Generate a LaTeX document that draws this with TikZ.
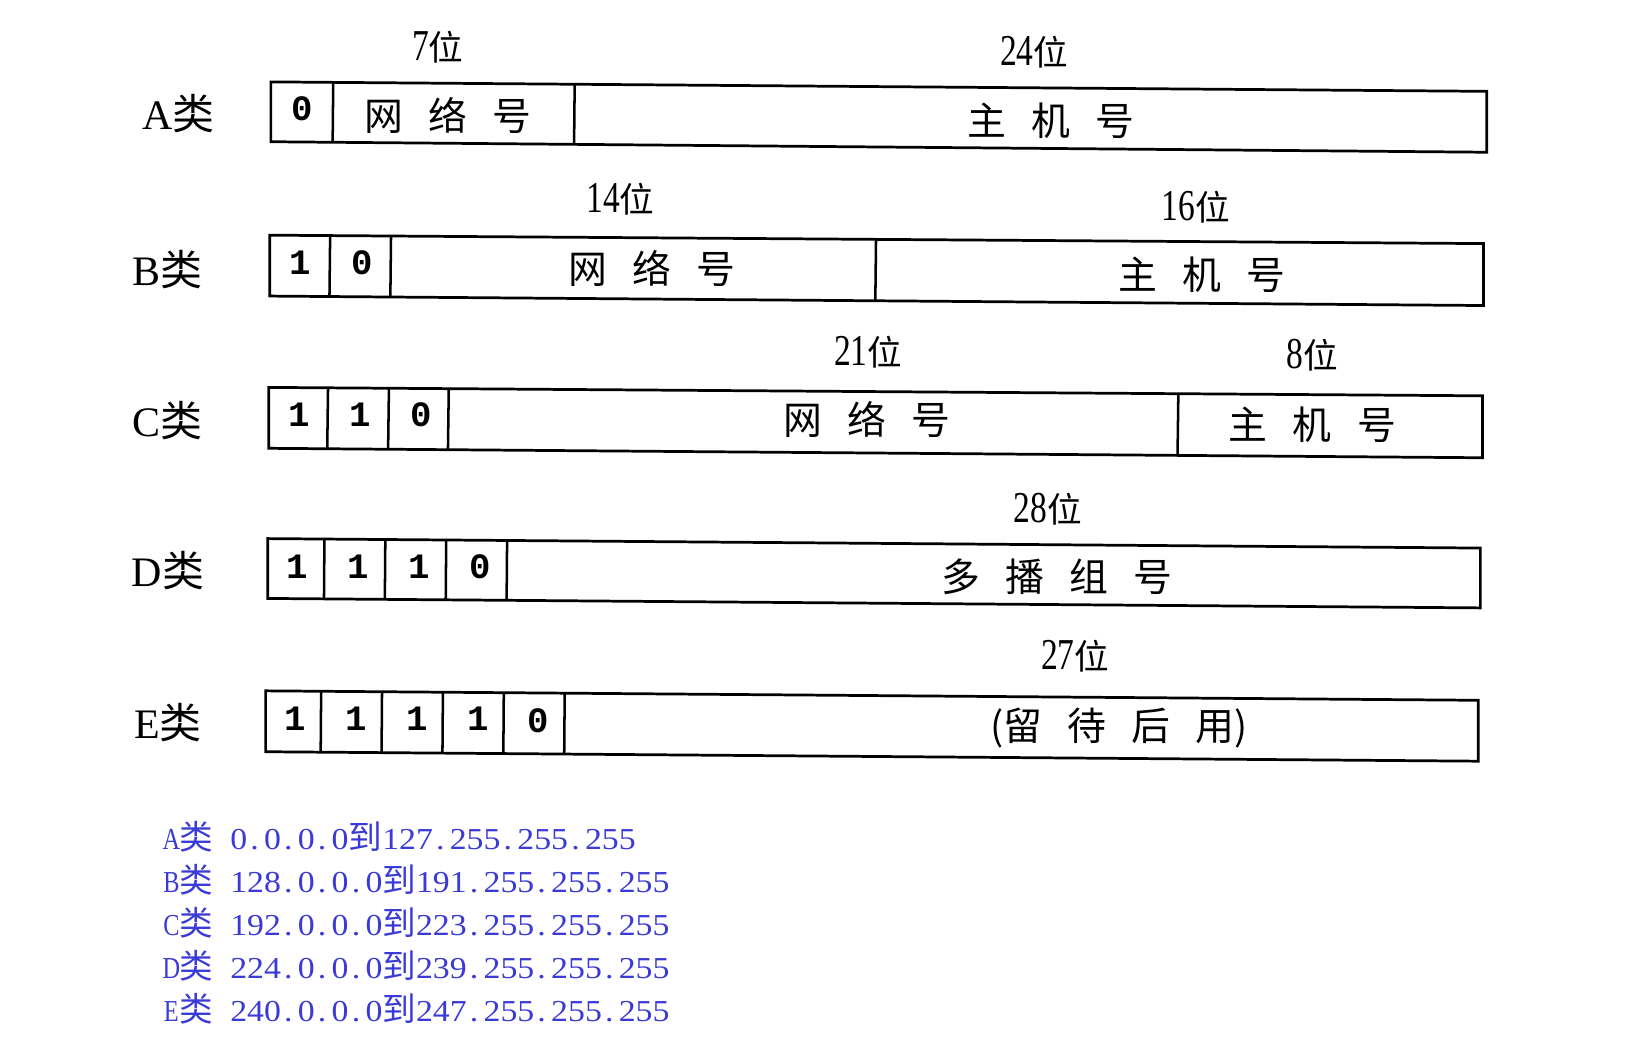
\documentclass[tikz,border=0pt]{standalone}
\usepackage{fontspec}
\usetikzlibrary{calc}
\newfontfamily\cjk{Noto Sans CJK SC}
\newfontfamily\lserif{Liberation Serif}
\newfontfamily\nserif[FakeStretch=0.76]{Liberation Serif}
\newfontfamily\bitfont{Liberation Mono}
\newfontfamily\ipfont[FakeStretch=1.11]{Liberation Serif}
\definecolor{ipblue}{RGB}{58,58,214}
\tikzset{
  boxline/.style={line width=2.6pt, line join=miter},
  divline/.style={line width=2.4pt},
  cls/.style={inner sep=0pt, font=\fontsize{40}{40}\selectfont},
  bits/.style={inner sep=0pt, font=\bitfont\bfseries\fontsize{34}{34}\selectfont},
  field/.style={inner sep=0pt, font=\cjk\fontsize{37}{37}\selectfont},
  cnt/.style={inner sep=0pt},
  ip/.style={anchor=base west, inner sep=0pt, text=ipblue, font=\ipfont\fontsize{29}{29}\selectfont},
}
\newcommand\Cls[1]{{\lserif #1}{\cjk 类}}
\newcommand\Cnt[1]{{\nserif\fontsize{42}{42}\selectfont #1}{\cjk\fontsize{33}{33}\selectfont 位}}
\newcommand\gp{\hspace{24pt}}
\newcommand\dt{\makebox[16.1pt][l]{\hspace{3pt}.}}
\newcommand\ltr[1]{\makebox[16.1pt][c]{\scalebox{0.72}[1]{#1}}}
\newcommand\IPline[3]{\ltr{#1}{\cjk\fontsize{32}{32}\selectfont 类}\hspace{16.1pt}#2{\cjk\fontsize{32}{32}\selectfont 到}#3}
\begin{document}
\begin{tikzpicture}[x=1pt,y=-1pt]
\useasboundingbox (0,0) rectangle (1563,987);
% ---------- A ----------
\coordinate (aTL) at (258,78); \coordinate (aTR) at (1416,87);
\coordinate (aBL) at (258,135); \coordinate (aBR) at (1416,145);
\draw[boxline] (aTL) -- (aTR) -- (aBR) -- (aBL) -- cycle;
\foreach \x in {318,548} \draw[divline] ($(aTL)!(\x,0)!(aTR)$) -- ($(aBL)!(\x,0)!(aBR)$);
\node[cls] (clsA) at (170,108) {\Cls{A}};
\node[bits] (a1) at (288,104) {0};
\node[field] (aNet) at (427,110) {网\gp 络\gp 号};
\node[field] (aHost) at (1001,115) {主\gp 机\gp 号};
\node[cnt] (a7) at (417,45) {\Cnt{7}};
\node[cnt] (a24) at (985,50) {\Cnt{24}};
% ---------- B ----------
\coordinate (bTL) at (257,224); \coordinate (bTR) at (1413,232);
\coordinate (bBL) at (257,282); \coordinate (bBR) at (1413,291);
\draw[boxline] (bTL) -- (bTR) -- (bBR) -- (bBL) -- cycle;
\foreach \x in {316,374,836} \draw[divline] ($(bTL)!(\x,0)!(bTR)$) -- ($(bBL)!(\x,0)!(bBR)$);
\node[cls] (clsB) at (160,257) {\Cls{B}};
\node[bits] (b1) at (286,250) {1};
\node[bits] (b2) at (345,250) {0};
\node[field] (bNet) at (621,256) {网\gp 络\gp 号};
\node[field] (bHost) at (1145,262) {主\gp 机\gp 号};
\node[cnt] (b14) at (591,190) {\Cnt{14}};
\node[cnt] (b16) at (1139,197) {\Cnt{16}};
% ---------- C ----------
\coordinate (cTL) at (256,369); \coordinate (cTR) at (1412,377);
\coordinate (cBL) at (256,427); \coordinate (cBR) at (1412,436);
\draw[boxline] (cTL) -- (cTR) -- (cBR) -- (cBL) -- cycle;
\foreach \x in {315,373,430,1125} \draw[divline] ($(cTL)!(\x,0)!(cTR)$) -- ($(cBL)!(\x,0)!(cBR)$);
\node[cls] (clsC) at (160,401) {\Cls{C}};
\node[bits] (c1) at (285,395) {1};
\node[bits] (c2) at (343,395) {1};
\node[bits] (c3) at (401,395) {0};
\node[field] (cNet) at (826,400) {网\gp 络\gp 号};
\node[field] (cHost) at (1250,405) {主\gp 机\gp 号};
\node[cnt] (c21) at (827,335) {\Cnt{21}};
\node[cnt] (c8) at (1250,338) {\Cnt{8}};
% ---------- D ----------
\coordinate (dTL) at (255,513); \coordinate (dTR) at (1410,522);
\coordinate (dBL) at (255,570); \coordinate (dBR) at (1410,579);
\draw[boxline] (dTL) -- (dTR) -- (dBR) -- (dBL) -- cycle;
\foreach \x in {313,371,429,487} \draw[divline] ($(dTL)!(\x,0)!(dTR)$) -- ($(dBL)!(\x,0)!(dBR)$);
\node[cls] (clsD) at (160,543) {\Cls{D}};
\node[bits] (d1) at (283,540) {1};
\node[bits] (d2) at (341,540) {1};
\node[bits] (d3) at (399,540) {1};
\node[bits] (d4) at (457,540) {0};
\node[field] (dGrp) at (1007,549) {多\gp 播\gp 组\gp 号};
\node[cnt] (d28) at (998,485) {\Cnt{28}};
% ---------- E ----------
\coordinate (eTL) at (253,658); \coordinate (eTR) at (1408,667);
\coordinate (eBL) at (253,716); \coordinate (eBR) at (1408,725);
\draw[boxline] (eTL) -- (eTR) -- (eBR) -- (eBL) -- cycle;
\foreach \x in {311,369,427,485,543} \draw[divline] ($(eTL)!(\x,0)!(eTR)$) -- ($(eBL)!(\x,0)!(eBR)$);
\node[cls] (clsE) at (160,688) {\Cls{E}};
\node[bits] (e1) at (281,685) {1};
\node[bits] (e2) at (339,685) {1};
\node[bits] (e3) at (397,685) {1};
\node[bits] (e4) at (455,685) {1};
\node[bits] (e5) at (513,686) {0};
\node[field] (eRes) at (1066,693) {(留\gp 待\gp 后\gp 用)};
\node[cnt] (e27) at (1024,625) {\Cnt{27}};
% ---------- ranges ----------
\node[ip] (ipA) at (155,809) {\IPline{A}{0\dt 0\dt 0\dt 0}{127\dt 255\dt 255\dt 255}};
\node[ip] (ipB) at (155,850) {\IPline{B}{128\dt 0\dt 0\dt 0}{191\dt 255\dt 255\dt 255}};
\node[ip] (ipC) at (155,891) {\IPline{C}{192\dt 0\dt 0\dt 0}{223\dt 255\dt 255\dt 255}};
\node[ip] (ipD) at (155,932) {\IPline{D}{224\dt 0\dt 0\dt 0}{239\dt 255\dt 255\dt 255}};
\node[ip] (ipE) at (155,973) {\IPline{E}{240\dt 0\dt 0\dt 0}{247\dt 255\dt 255\dt 255}};
\end{tikzpicture}
\end{document}
